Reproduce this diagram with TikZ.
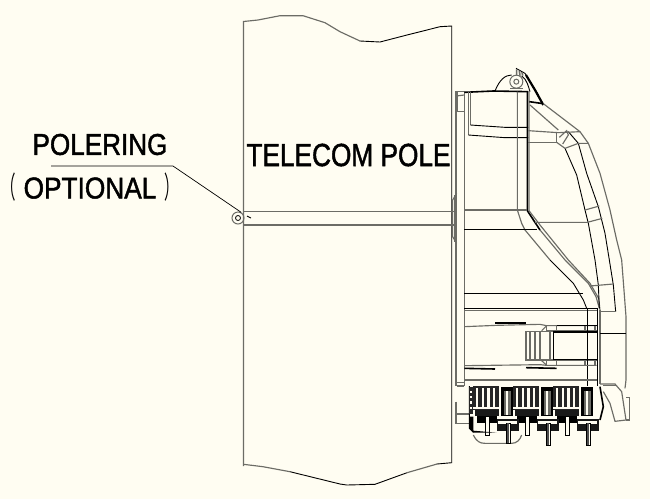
\documentclass[tikz,border=0pt]{standalone}
\usepackage{graphicx}
\usepackage{fontspec}
\setmainfont{Liberation Sans}
\newfontfamily\labelfont[FakeBold=1.6]{Liberation Sans}
\newfontfamily\cjk{Noto Sans CJK SC}
\newcommand{\narrowparen}[1]{\scalebox{0.55}[1]{\cjk #1}}
\definecolor{paper}{HTML}{FFFDF2}
\definecolor{grayline}{HTML}{6C6C66}
\begin{document}
\begin{tikzpicture}[x=1pt,y=-1pt,
        label text/.style={inner sep=0pt,font=\labelfont\fontsize{30}{32}\selectfont},
        ink/.style={black,line width=0.9pt},
        pale/.style={grayline,line width=1.15pt},
        heavy/.style={black,line width=1.6pt},
        dense/.style={black,line width=2.2pt}]

    \useasboundingbox (0,0) rectangle (650,499);
    \fill[paper] (0,0) rectangle (650,499);

    % pole
    \draw[pale] (243.5,466) -- (243.5,21.5) -- (258,20) -- (280,15.7) -- (303,15.7) -- (325,22.7)
        -- (340,31.7) -- (360,41);
    \draw[ink] (360,41) -- (380,42) -- (407,35) -- (440,26.7) -- (451.7,26) -- (451.7,463);
    \draw[pale] (243.5,464.3) -- (263,466.7) -- (290,471.7);
    \draw[ink] (290,471.7) -- (340,484) -- (346.7,485) -- (375,484.3) -- (407,472.7);
    \draw[pale] (407,472.7) -- (437,464);
    \draw[ink] (437,464) -- (451.7,462.7);

    % labels
    \node[label text,xscale=0.87] (polering) at (100,144.5) {POLERING};
    \node[label text,xscale=0.875] (optional) at (90,187) {\narrowparen{（}\hspace{9pt}OPTIONAL\hspace{9pt}\narrowparen{）}};
    \node[label text,font=\labelfont\fontsize{32}{34}\selectfont,xscale=0.82] (telecom) at (348.5,155) {TELECOM POLE};

    % leader and ring
    \coordinate (leaderstart) at (51,166);
    \coordinate (leaderknee) at (173,166);
    \node[draw=black,circle,line width=0.8pt,inner sep=0pt,minimum size=5pt] (eye) at (238,218) {};
    \node[draw=grayline,circle,line width=1pt,inner sep=0pt,minimum size=12pt] (ring) at (238,218) {};
    \draw[ink,line width=0.7pt] (leaderstart) -- (leaderknee) -- (ring.60);
    \draw[ink] (247,216) -- (251,218);
    \draw[pale] (244,211.5) -- (455,211.5);
    \draw[pale] (244,225) -- (455,225);

    % upper half of the box
    \begin{scope}[shift={(440,60)},scale=1/3]
        \draw[pale] (48,600) -- (48,95) -- (73,95) -- (73,600);
        \draw[pale] (53,95) -- (53,155);
        \draw[pale] (48,155) -- (73,155);
        \draw[pale] (48,108) -- (73,105);
        \draw[heavy] (73,97) -- (160,93) -- (265,95);
        \draw[pale,line width=1.6pt] (85,95) -- (85,225);
        \draw[pale] (91,95) -- (91,195);
        \draw[ink] (91,195) -- (195,202) -- (265,202);
        \draw[ink] (85,225) -- (195,233) -- (265,233);
        \draw[pale] (50,400) -- (38,420) -- (38,530) -- (50,550);
        \draw[pale] (44,405) -- (44,545);
        \draw[pale] (232,95) -- (232,450) -- (245,490) -- (255,510) -- (330,600);
        \draw[heavy] (262,95) -- (262,452) -- (300,510);
        \draw[pale] (267,95) -- (267,452) -- (300,495) -- (385,600);
        \draw[pale] (300,510) -- (375,600);
        \draw[ink] (165,93) .. controls (178,60) and (195,45) .. (215,45);
        \draw[ink] (245,48) .. controls (262,60) and (265,80) .. (270,95);
        \node[draw=grayline,circle,line width=1pt,inner sep=0pt,minimum size=13pt] (hinge) at (229,65) {};
        \node[draw=grayline,circle,line width=1pt,inner sep=0pt,minimum size=5pt] (pin) at (229,65) {};
        \draw[pale] (210,85) -- (250,85);
        \draw[dense] (258,45) -- (285,90) -- (310,135);
        \draw[ink] (228,25) -- (255,40) -- (295,105);
        \draw[pale,line width=1.6pt] (230,28) -- (230,45) (238,32) -- (240,47) (246,36) -- (248,47);
        \draw[heavy] (268,125) -- (310,131);
        \draw[pale] (270,135) -- (355,210);
        \draw[pale] (310,131) -- (420,215) -- (445,250) -- (480,340) -- (510,450) -- (530,540) -- (545,600);
        \draw[ink] (385,215) -- (415,250) -- (440,340) -- (475,440) -- (495,520) -- (508,600);
        \draw[ink] (375,265) -- (410,345) -- (435,450) -- (445,490) -- (465,600);
        \draw[pale] (265,212) -- (355,218) -- (420,215);
        \draw[pale] (265,247) -- (350,247) -- (350,218);
        \draw[pale] (350,247) -- (375,265) -- (415,250) -- (445,250);
        \draw[pale] (358,232) -- (380,212) -- (385,225) -- (368,252);
        \draw[pale] (0,455) -- (50,455);
        \draw[pale] (0,495) -- (50,495);
        \draw[pale,line width=1.4pt] (73,450) -- (262,450);
        \draw[ink] (73,508) -- (292,508);
        \draw[pale] (285,487) -- (442,487) -- (487,475);
        \draw[pale] (435,450) -- (478,438);
    \end{scope}

    % lower half of the box
    \begin{scope}[shift={(440,260)},scale=1/3]
        \draw[pale] (48,0) -- (48,378) (73,0) -- (73,378);
        \draw[pale] (50,368) -- (73,368) (50,378) -- (73,378);
        \draw[ink] (330,0) -- (400,70) -- (430,120) -- (440,145);
        \draw[pale] (375,0) -- (445,70) -- (468,110) -- (478,145);
        \draw[pale] (385,0) -- (450,70) -- (476,115) -- (480,150);
        \draw[ink] (465,0) -- (475,75) -- (478,145);
        \draw[ink] (508,0) -- (520,75) -- (527,155);
        \draw[pale] (545,0) -- (558,170) -- (558,360) -- (555,385);
        \draw[pale] (450,78) -- (520,72);
        \draw[pale] (480,155) -- (527,155);
        \draw[ink] (73,100) -- (430,100);
        \draw[heavy] (73,145) -- (475,145);
        \draw[pale] (73,152) -- (475,152);
        \draw[pale] (73,200) -- (170,196) -- (300,193) -- (320,197) -- (470,197);
        \draw[heavy] (165,189) -- (258,189);
        \draw[heavy] (350,196) -- (470,196);
        \draw[pale] (305,212) -- (320,197) (305,302) -- (320,316);
        \draw[pale] (320,197) -- (320,212) (350,197) -- (350,212) (435,197) -- (435,212) (465,197) -- (465,212);
        \draw[pale] (320,302) -- (320,316) (350,302) -- (350,316) (435,302) -- (435,316) (465,302) -- (465,316);
        \draw[pale] (258,214) rectangle (340,300);
        \foreach \xclip in {270,285,300,330}
            \draw[pale] (\xclip,214) -- (\xclip,300);
        \draw[heavy] (340,214) -- (340,300);
        \draw[heavy] (340,216) -- (470,216);
        \draw[heavy] (340,298) -- (470,298);
        \draw[pale] (320,212) -- (470,212) (320,302) -- (470,302);
        \draw[ink] (442,145) -- (442,378);
        \draw[heavy] (472,145) -- (472,378);
        \draw[pale] (480,150) -- (480,372);
        \draw[ink] (480,220) -- (558,220);
        \draw[pale] (73,317) -- (300,314) -- (320,316) -- (470,316);
        \draw[heavy] (73,325) -- (165,327);
        \draw[heavy] (258,323) -- (350,325);
        \draw[pale] (73,360) -- (470,360);
        % tail on the right
        \draw[pale] (480,372) -- (525,372) -- (545,395) -- (558,480) -- (525,484) -- (510,430) -- (490,395);
        \draw[pale] (490,377) -- (530,377);
        \draw[pale,line width=1.5pt] (558,412) -- (568,412) -- (568,480) -- (558,480);
        % holders on the left
        \draw[pale] (48,425) -- (48,490) -- (90,490);
        \draw[pale] (48,462) -- (90,462);
        \draw[ink] (88,378) -- (88,505) -- (100,517);
        \draw[pale] (100,525) .. controls (110,545) and (120,550) .. (135,550) -- (215,550)
            .. controls (230,550) and (240,540) .. (245,525);
        % big glands
        \foreach \xgland in {100,220,340} {
            \fill[black!85] (\xgland,378) rectangle ++(78,72);
            \foreach \xrib in {8,25,42,59}
                \fill[paper] (\xgland+\xrib,384) rectangle ++(7,56);
            \fill[paper] (\xgland-2,441) rectangle ++(82,6);
            \fill[black!90] (\xgland+4,450) rectangle ++(74,18);
            \fill[black] (\xgland+10,468) rectangle ++(62,22);
            \fill[paper] (\xgland+37,470) rectangle ++(12,55);
            \draw[ink] (\xgland+37,470) rectangle ++(12,55);
        }
        % small glands
        \foreach \xsmall/\lowtip in {184/550,304/555,424/555} {
            \fill[black] (\xsmall,380) rectangle ++(36,88);
            \fill[grayline] (\xsmall+8,392) rectangle ++(20,72);
            \fill[paper] (\xsmall+13,392) rectangle ++(6,72);
            \fill[black!90] (\xsmall-14,478) rectangle ++(66,36);
            \fill[paper] (\xsmall-10,484) rectangle ++(58,8);
            \fill[paper] (\xsmall+14,490) rectangle (\xsmall+27,\lowtip);
            \draw[ink] (\xsmall+14,490) rectangle (\xsmall+27,\lowtip);
            \fill[black!70] (\xsmall+18,490) rectangle (\xsmall+23,\lowtip);
        }
        \fill[black] (88,470) -- (100,470) -- (100,512) -- (170,518) -- (100,518) -- (88,505) -- cycle;
        \fill[black!85] (88,380) rectangle (98,462);
        \foreach \ydash in {392,408,424,440}
            \fill[paper] (90,\ydash) rectangle ++(6,7);
        \draw[heavy] (480,380) -- (490,440) -- (480,480);
    \end{scope}
\end{tikzpicture}
\end{document}
